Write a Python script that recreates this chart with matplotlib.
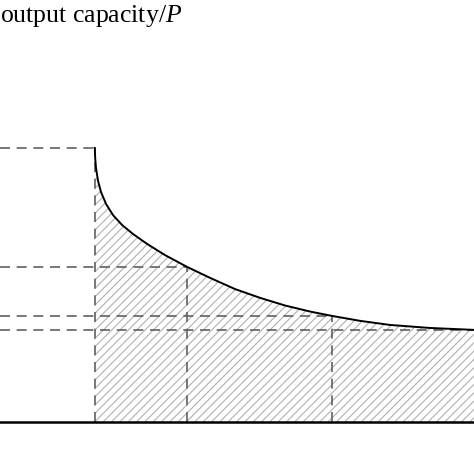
import matplotlib.pyplot as plt

# output capacity curve (time, capacity)
t = [2.0, 2.008, 2.025, 2.068, 2.131, 2.236, 2.384, 2.574, 2.806, 3.101,
     3.481, 3.945, 4.430, 4.958, 5.485, 6.013, 6.540, 7.004, 7.595, 8.228,
     9.072, 10.0]
p = [10.0, 9.64, 9.27, 8.80, 8.39, 7.96, 7.55, 7.19, 6.86, 6.50,
     6.09, 5.66, 5.26, 4.85, 4.53, 4.25, 4.03, 3.87, 3.69, 3.54,
     3.43, 3.36]

# reference points marked with dashed guides
mark_t = [2.0, 3.945, 7.004, 10.0]
mark_p = [10.0, 5.66, 3.87, 3.36]

plt.rcParams['hatch.linewidth'] = 0.8
plt.rcParams['mathtext.fontset'] = 'custom'
plt.rcParams['mathtext.it'] = 'Liberation Serif:italic'
plt.rcParams['mathtext.rm'] = 'Liberation Serif'

fig = plt.figure(figsize=(4.74, 4.74), dpi=100)
ax = fig.add_axes([0, 0, 1, 1])
ax.set_axis_off()
ax.set_xlim(0, 10)
ax.set_ylim(-1.9, 15.4)

# hatched area under the curve
ax.fill_between(t, p, 0, facecolor='none', edgecolor='#b0b0b0',
                hatch='////', linewidth=0)

# dashed guides
dash = dict(color='#606060', lw=1.2, dashes=(6, 4))
for tt, pp in zip(mark_t, mark_p):
    ax.plot([0, tt], [pp, pp], **dash)
    if tt < 10:
        ax.plot([tt, tt], [0, pp], **dash)

ax.plot(t, p, color='k', lw=1.4)
ax.axhline(0, color='k', lw=1.8)

ax.text(0.0, 14.6, 'output capacity/$P$', fontsize=18.5,
        family='Liberation Serif', va='baseline')

fig.savefig('out.png', dpi=100)
